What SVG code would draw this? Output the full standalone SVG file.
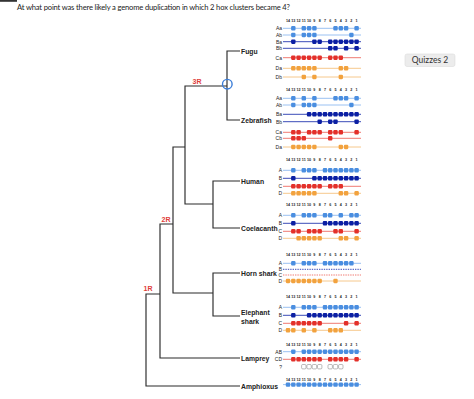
<svg xmlns="http://www.w3.org/2000/svg" xmlns:xlink="http://www.w3.org/1999/xlink" width="474" height="399" viewBox="0 0 474 399">
<style>
.tree{fill:none;stroke:#2a2a2a;stroke-width:1.15}
.sp{font-family:"Liberation Sans",Arial,sans-serif;font-size:6.8px;font-weight:bold;fill:#222}
.dup{font-family:"Liberation Sans",Arial,sans-serif;font-size:7px;font-weight:bold;fill:#e0403a;text-anchor:middle}
.hd{font-family:"Liberation Sans",Arial,sans-serif;font-size:3.7px;font-weight:bold;fill:#222;text-anchor:middle}
.rl{font-family:"Liberation Sans",Arial,sans-serif;font-size:5px;fill:#222;text-anchor:end}
.lb{fill:#4a8ee0}.lb line{stroke:#8fbaf0;stroke-width:0.9}
.db{fill:#0b1fa3}.db line{stroke:#2538b0;stroke-width:0.9}
.rd{fill:#e3302a}.rd line{stroke:#ee6b62;stroke-width:0.9}
.or{fill:#f2a23e}.or line{stroke:#f5c27f;stroke-width:0.9}
.dash line{stroke-dasharray:1.4 1}
.open{fill:none;stroke:#777;stroke-width:0.5}
</style>
<defs>
<rect id="b" x="-2.2" y="-2.2" width="4.4" height="4.4" rx="1.1"/>
<g id="hdr">
<text class="hd" x="288">14</text><text class="hd" x="293.3">13</text><text class="hd" x="298.6">12</text><text class="hd" x="303.8">11</text><text class="hd" x="309.1">10</text><text class="hd" x="314.4">9</text><text class="hd" x="319.7">8</text><text class="hd" x="325">7</text><text class="hd" x="330.2">6</text><text class="hd" x="335.5">5</text><text class="hd" x="340.8">4</text><text class="hd" x="346.1">3</text><text class="hd" x="351.4">2</text><text class="hd" x="356.6">1</text>
</g>
</defs>
<rect width="474" height="399" fill="#fff"/>
<rect x="0" y="0" width="17" height="1.8" fill="#333"/>
<text x="17" y="9.8" font-family="Lato,'Liberation Sans',sans-serif" font-size="7.6" fill="#222" textLength="273">At what point was there likely a genome duplication in which 2 hox clusters became 4?</text>
<g id="quizzes">
<rect x="405" y="54" width="50" height="12.5" rx="2" fill="#ececec" stroke="#dcdcdc" stroke-width="0.6"/>
<text x="430" y="63" font-family="Lato,'Liberation Sans',sans-serif" font-size="8.5" fill="#333" text-anchor="middle">Quizzes 2</text>
</g>

<g id="connectors">
<path class="tree" d="M240,51 H227 V120 H240"/>
<path class="tree" d="M227,86 H185 V204 H213"/>
<path class="tree" d="M240,181 H213 V228 H240"/>
<path class="tree" d="M185,147 H173 V293 H213"/>
<path class="tree" d="M240,273 H213 V316 H240"/>
<path class="tree" d="M173,224 H160 V358 H240"/>
<path class="tree" d="M160,294 H146 V386 H240"/>
<circle cx="227.3" cy="84.2" r="4.8" fill="none" stroke="#3b7dd8" stroke-width="1.4"/>
</g>
<g id="dup-labels">
<text class="dup" x="197" y="84.3">3R</text>
<text class="dup" x="166" y="221.6">2R</text>
<text class="dup" x="148" y="291">1R</text>
</g>

<g id="fugu">
<text class="sp" x="241" y="53.5">Fugu</text>
<use href="#hdr" y="22.3"/>
<text class="rl" x="282" y="30.1">Aa</text><text class="rl" x="282" y="36.8">Ab</text><text class="rl" x="282" y="43.5">Ba</text><text class="rl" x="282" y="50.1">Bb</text><text class="rl" x="282" y="59.5">Ca</text><text class="rl" x="282" y="70.1">Da</text><text class="rl" x="282" y="78.8">Db</text>
<g class="lb" transform="translate(0,28.3)"><line x1="283" x2="361"/><use href="#b" x="293.3"/><use href="#b" x="303.8"/><use href="#b" x="309.1"/><use href="#b" x="314.4"/><use href="#b" x="335.5"/><use href="#b" x="340.8"/><use href="#b" x="346.1"/><use href="#b" x="356.6"/></g>
<g class="lb" transform="translate(0,35)"><line x1="283" x2="361"/><use href="#b" x="293.3"/><use href="#b" x="303.8"/><use href="#b" x="309.1"/><use href="#b" x="314.4"/><use href="#b" x="351.4"/></g>
<g class="db" transform="translate(0,41.7)"><line x1="283" x2="361"/><use href="#b" x="293.3"/><use href="#b" x="314.4"/><use href="#b" x="319.7"/><use href="#b" x="330.2"/><use href="#b" x="335.5"/><use href="#b" x="340.8"/><use href="#b" x="346.1"/><use href="#b" x="351.4"/><use href="#b" x="356.6"/></g>
<g class="db" transform="translate(0,48.3)"><line x1="283" x2="361"/><use href="#b" x="330.2"/><use href="#b" x="335.5"/><use href="#b" x="346.1"/><use href="#b" x="356.6"/></g>
<g class="rd" transform="translate(0,57.7)"><line x1="283" x2="361"/><use href="#b" x="293.3"/><use href="#b" x="298.6"/><use href="#b" x="303.8"/><use href="#b" x="309.1"/><use href="#b" x="314.4"/><use href="#b" x="319.7"/><use href="#b" x="330.2"/><use href="#b" x="335.5"/><use href="#b" x="340.8"/></g>
<g class="or" transform="translate(0,68.3)"><line x1="283" x2="361"/><use href="#b" x="293.3"/><use href="#b" x="298.6"/><use href="#b" x="303.8"/><use href="#b" x="309.1"/><use href="#b" x="314.4"/><use href="#b" x="340.8"/><use href="#b" x="346.1"/></g>
<g class="or" transform="translate(0,77)"><line x1="283" x2="361"/><use href="#b" x="303.8"/><use href="#b" x="314.4"/><use href="#b" x="340.8"/></g>
</g>

<g id="zebrafish">
<text class="sp" x="241" y="122.5">Zebrafish</text>
<use href="#hdr" y="91.3"/>
<text class="rl" x="282" y="100.1">Aa</text><text class="rl" x="282" y="106.8">Ab</text><text class="rl" x="282" y="116.1">Ba</text><text class="rl" x="282" y="123.5">Bb</text><text class="rl" x="282" y="134.1">Ca</text><text class="rl" x="282" y="140.1">Cb</text><text class="rl" x="282" y="148.8">Da</text>
<g class="lb" transform="translate(0,98.3)"><line x1="283" x2="361"/><use href="#b" x="293.3"/><use href="#b" x="303.8"/><use href="#b" x="314.4"/><use href="#b" x="335.5"/><use href="#b" x="340.8"/><use href="#b" x="346.1"/><use href="#b" x="356.6"/></g>
<g class="lb" transform="translate(0,105)"><line x1="283" x2="361"/><use href="#b" x="293.3"/><use href="#b" x="303.8"/><use href="#b" x="309.1"/><use href="#b" x="314.4"/><use href="#b" x="351.4"/></g>
<g class="db" transform="translate(0,114.3)"><line x1="283" x2="361"/><use href="#b" x="309.1"/><use href="#b" x="314.4"/><use href="#b" x="319.7"/><use href="#b" x="325"/><use href="#b" x="330.2"/><use href="#b" x="335.5"/><use href="#b" x="340.8"/><use href="#b" x="346.1"/><use href="#b" x="351.4"/><use href="#b" x="356.6"/></g>
<g class="db" transform="translate(0,121.7)"><line x1="283" x2="361"/><use href="#b" x="319.7"/><use href="#b" x="330.2"/><use href="#b" x="335.5"/><use href="#b" x="356.6"/></g>
<g class="rd" transform="translate(0,132.3)"><line x1="283" x2="361"/><use href="#b" x="293.3"/><use href="#b" x="298.6"/><use href="#b" x="309.1"/><use href="#b" x="314.4"/><use href="#b" x="319.7"/><use href="#b" x="330.2"/><use href="#b" x="335.5"/><use href="#b" x="340.8"/><use href="#b" x="356.6"/></g>
<g class="rd" transform="translate(0,138.3)"><line x1="283" x2="361"/><use href="#b" x="293.3"/><use href="#b" x="298.6"/><use href="#b" x="303.8"/><use href="#b" x="330.2"/></g>
<g class="or" transform="translate(0,147)"><line x1="283" x2="361"/><use href="#b" x="293.3"/><use href="#b" x="298.6"/><use href="#b" x="303.8"/><use href="#b" x="309.1"/><use href="#b" x="314.4"/><use href="#b" x="340.8"/><use href="#b" x="346.1"/></g>
</g>

<g id="human">
<text class="sp" x="241" y="183.5">Human</text>
<use href="#hdr" y="161.3"/>
<text class="rl" x="282" y="172.1">A</text><text class="rl" x="282" y="180.1">B</text><text class="rl" x="282" y="188.1">C</text><text class="rl" x="282" y="195.1">D</text>
<g class="lb" transform="translate(0,170.3)"><line x1="283" x2="361"/><use href="#b" x="293.3"/><use href="#b" x="303.8"/><use href="#b" x="309.1"/><use href="#b" x="314.4"/><use href="#b" x="325"/><use href="#b" x="330.2"/><use href="#b" x="335.5"/><use href="#b" x="340.8"/><use href="#b" x="346.1"/><use href="#b" x="351.4"/><use href="#b" x="356.6"/></g>
<g class="db" transform="translate(0,178.3)"><line x1="283" x2="361"/><use href="#b" x="293.3"/><use href="#b" x="314.4"/><use href="#b" x="319.7"/><use href="#b" x="325"/><use href="#b" x="330.2"/><use href="#b" x="335.5"/><use href="#b" x="340.8"/><use href="#b" x="346.1"/><use href="#b" x="351.4"/><use href="#b" x="356.6"/></g>
<g class="rd" transform="translate(0,186.3)"><line x1="283" x2="361"/><use href="#b" x="293.3"/><use href="#b" x="298.6"/><use href="#b" x="303.8"/><use href="#b" x="309.1"/><use href="#b" x="314.4"/><use href="#b" x="319.7"/><use href="#b" x="330.2"/><use href="#b" x="335.5"/><use href="#b" x="340.8"/></g>
<g class="or" transform="translate(0,193.3)"><line x1="283" x2="361"/><use href="#b" x="293.3"/><use href="#b" x="298.6"/><use href="#b" x="303.8"/><use href="#b" x="309.1"/><use href="#b" x="314.4"/><use href="#b" x="340.8"/><use href="#b" x="346.1"/><use href="#b" x="356.6"/></g>
</g>

<g id="coelacanth">
<text class="sp" x="241" y="230.5">Coelacanth</text>
<use href="#hdr" y="206.3"/>
<text class="rl" x="282" y="217.1">A</text><text class="rl" x="282" y="225.1">B</text><text class="rl" x="282" y="233.1">C</text><text class="rl" x="282" y="240.1">D</text>
<g class="lb" transform="translate(0,215.3)"><line x1="283" x2="361"/><use href="#b" x="293.3"/><use href="#b" x="303.8"/><use href="#b" x="309.1"/><use href="#b" x="314.4"/><use href="#b" x="325"/><use href="#b" x="330.2"/><use href="#b" x="340.8"/><use href="#b" x="351.4"/><use href="#b" x="356.6"/></g>
<g class="db" transform="translate(0,223.3)"><line x1="283" x2="361"/><use href="#b" x="293.3"/><use href="#b" x="325"/><use href="#b" x="330.2"/><use href="#b" x="335.5"/><use href="#b" x="340.8"/><use href="#b" x="346.1"/><use href="#b" x="351.4"/><use href="#b" x="356.6"/></g>
<g class="rd" transform="translate(0,231.3)"><line x1="283" x2="361"/><use href="#b" x="293.3"/><use href="#b" x="298.6"/><use href="#b" x="309.1"/><use href="#b" x="314.4"/><use href="#b" x="319.7"/><use href="#b" x="335.5"/><use href="#b" x="340.8"/><use href="#b" x="356.6"/></g>
<g class="or" transform="translate(0,238.3)"><line x1="283" x2="361"/><use href="#b" x="298.6"/><use href="#b" x="303.8"/><use href="#b" x="309.1"/><use href="#b" x="314.4"/><use href="#b" x="319.7"/><use href="#b" x="340.8"/><use href="#b" x="346.1"/><use href="#b" x="356.6"/></g>
</g>

<g id="horn-shark">
<text class="sp" x="241" y="275.5">Horn shark</text>
<use href="#hdr" y="256.3"/>
<text class="rl" x="282" y="265.1">A</text><text class="rl" x="282" y="271.1">B</text><text class="rl" x="282" y="276.8">C</text><text class="rl" x="282" y="282.8">D</text>
<g class="lb" transform="translate(0,263.3)"><line x1="283" x2="361"/><use href="#b" x="293.3"/><use href="#b" x="303.8"/><use href="#b" x="309.1"/><use href="#b" x="314.4"/><use href="#b" x="325"/><use href="#b" x="330.2"/><use href="#b" x="335.5"/><use href="#b" x="340.8"/><use href="#b" x="346.1"/><use href="#b" x="351.4"/></g>
<g class="db dash" transform="translate(0,269.3)"><line x1="283" x2="361"/></g>
<g class="rd dash" transform="translate(0,275)"><line x1="283" x2="361"/></g>
<g class="or" transform="translate(0,281)"><line x1="283" x2="361"/><use href="#b" x="288"/><use href="#b" x="293.3"/><use href="#b" x="298.6"/><use href="#b" x="303.8"/><use href="#b" x="309.1"/><use href="#b" x="314.4"/><use href="#b" x="319.7"/><use href="#b" x="335.5"/></g>
</g>

<g id="elephant-shark">
<text class="sp" x="241" y="315"><tspan x="241">Elephant</tspan><tspan x="241" y="324">shark</tspan></text>
<use href="#hdr" y="298.3"/>
<text class="rl" x="282" y="309.1">A</text><text class="rl" x="282" y="317.1">B</text><text class="rl" x="282" y="325.1">C</text><text class="rl" x="282" y="332.1">D</text>
<g class="lb" transform="translate(0,307.3)"><line x1="283" x2="361"/><use href="#b" x="293.3"/><use href="#b" x="303.8"/><use href="#b" x="309.1"/><use href="#b" x="314.4"/><use href="#b" x="325"/><use href="#b" x="330.2"/><use href="#b" x="335.5"/><use href="#b" x="340.8"/><use href="#b" x="346.1"/><use href="#b" x="351.4"/><use href="#b" x="356.6"/></g>
<g class="db" transform="translate(0,315.3)"><line x1="283" x2="361"/><use href="#b" x="293.3"/><use href="#b" x="309.1"/><use href="#b" x="314.4"/><use href="#b" x="319.7"/><use href="#b" x="325"/><use href="#b" x="330.2"/><use href="#b" x="335.5"/><use href="#b" x="340.8"/><use href="#b" x="346.1"/><use href="#b" x="351.4"/><use href="#b" x="356.6"/></g>
<g class="rd" transform="translate(0,323.3)"><line x1="283" x2="361"/><use href="#b" x="293.3"/><use href="#b" x="298.6"/><use href="#b" x="303.8"/><use href="#b" x="309.1"/><use href="#b" x="314.4"/><use href="#b" x="319.7"/><use href="#b" x="346.1"/><use href="#b" x="356.6"/></g>
<g class="or" transform="translate(0,330.3)"><line x1="283" x2="361"/><use href="#b" x="288"/><use href="#b" x="293.3"/><use href="#b" x="303.8"/><use href="#b" x="314.4"/><use href="#b" x="330.2"/><use href="#b" x="335.5"/><use href="#b" x="340.8"/></g>
</g>

<g id="lamprey">
<text class="sp" x="241" y="360.5">Lamprey</text>
<use href="#hdr" y="346.3"/>
<text class="rl" x="282" y="353.5">AB</text><text class="rl" x="282" y="361.1">CD</text><text class="rl" x="282" y="368.5">?</text>
<g class="lb" transform="translate(0,351.7)"><line x1="283" x2="361"/><use href="#b" x="293.3"/><use href="#b" x="303.8"/><use href="#b" x="309.1"/><use href="#b" x="314.4"/><use href="#b" x="319.7"/><use href="#b" x="325"/><use href="#b" x="330.2"/><use href="#b" x="335.5"/><use href="#b" x="340.8"/><use href="#b" x="346.1"/><use href="#b" x="351.4"/><use href="#b" x="356.6"/></g>
<g class="rd" transform="translate(0,359.3)"><line x1="283" x2="361"/><use href="#b" x="293.3"/><use href="#b" x="298.6"/><use href="#b" x="303.8"/><use href="#b" x="309.1"/><use href="#b" x="314.4"/><use href="#b" x="319.7"/><use href="#b" x="330.2"/><use href="#b" x="335.5"/><use href="#b" x="340.8"/><use href="#b" x="346.1"/><use href="#b" x="356.6"/></g>
<g class="open" transform="translate(0,366.7)"><use href="#b" x="303.8"/><use href="#b" x="309.1"/><use href="#b" x="314.4"/><use href="#b" x="319.7"/><use href="#b" x="330.2"/><use href="#b" x="335.5"/><use href="#b" x="340.8"/></g>
</g>

<g id="amphioxus">
<text class="sp" x="241" y="388.5">Amphioxus</text>
<use href="#hdr" y="380.6"/>
<g class="lb" transform="translate(0,384.6)"><line x1="283" x2="361"/><use href="#b" x="288"/><use href="#b" x="293.3"/><use href="#b" x="298.6"/><use href="#b" x="303.8"/><use href="#b" x="309.1"/><use href="#b" x="314.4"/><use href="#b" x="319.7"/><use href="#b" x="325"/><use href="#b" x="330.2"/><use href="#b" x="335.5"/><use href="#b" x="340.8"/><use href="#b" x="346.1"/><use href="#b" x="351.4"/><use href="#b" x="356.6"/></g>
</g>
</svg>
